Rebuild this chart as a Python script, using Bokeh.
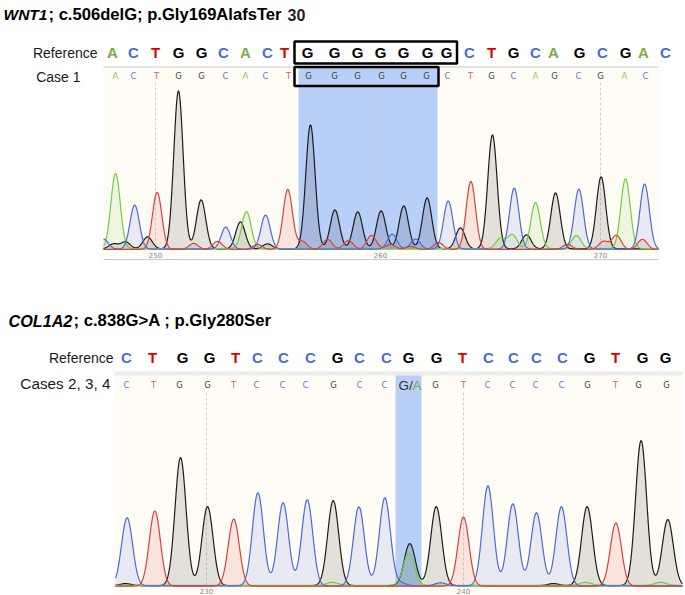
import numpy as np
from bokeh.plotting import figure
from bokeh.models import Range1d
from bokeh.embed import file_html
from bokeh.resources import INLINE
from bokeh.core.properties import value

# ---------- data: panel 1 (WNT1), peak position in base number, height in signal units
w_a_pos = [248.19, 254.08, 265.51, 266.05, 267.09, 268.93, 271.14]
w_a_h   = [75, 37, 10, 14, 46, 13, 70]
w_c_pos = [247.65, 249.05, 253.15, 254.94, 260.64, 261.69, 263.16, 266.13, 269.04, 272.0]
w_c_h   = [10, 44, 22, 34, 15, 10, 48, 61, 60, 65]
w_t_pos = [250.06, 251.70, 252.78, 254.58, 255.94, 256.60, 257.73, 258.67, 259.71, 260.56,
           261.46, 262.72, 264.18, 268.53, 270.15, 270.73, 271.90]
w_t_h   = [57, 6, 8, 5, 60, 8, 10, 9, 14, 5, 3, 7, 68, 5, 8, 14, 10]
w_g_pos = [248.10, 248.64, 249.63, 251.02, 252.04, 253.81, 255.03, 256.96, 258.06, 259.09,
           260.14, 261.16, 262.21, 263.71, 265.15, 266.68, 267.99, 270.04]
w_g_h   = [5, 7, 12, 158, 49, 27, 5, 124, 39, 37, 38, 43, 51, 21, 114, 14, 56, 72]

# ---------- data: panel 2 (COL1A2)
c_a_pos = [234.9, 237.87, 244.75, 247.67]
c_a_h   = [3, 32, 3, 3]
c_c_pos = [226.91, 232.0, 232.98, 233.92, 235.93, 236.94, 237.55, 239.11, 240.95, 241.92, 242.84, 243.81]
c_c_h   = [68, 93, 83, 86, 79, 88, 3, 3, 100, 82, 73, 79]
c_t_pos = [227.99, 231.06, 240.0, 245.93]
c_t_h   = [75, 67, 69, 63]
c_g_pos = [226.85, 228.99, 230.04, 234.93, 237.91, 238.94, 243.5, 244.81, 246.91, 247.95]
c_g_h   = [2, 128, 79, 85, 42, 79, 2, 79, 145, 66]

# ---------- texts
w_ref_x = [112, 133, 155, 178, 201, 223, 245, 267, 284, 307, 334, 357, 380, 403, 427, 446,
           469, 491, 513, 535, 553, 579, 602, 625, 643, 665]
w_ref  = list("ACTGGCACTGGGGGGGCTGCAGCGAC")
w_call = list("ACTGGCACTGGGGGGCTGCAGCGAC")
w_call_x = [115, 133, 156, 178, 201, 225, 245, 265, 288, 308, 334, 357, 381, 403, 426, 447,
            470, 491, 513, 535, 554, 578, 600, 624, 645]
c_ref  = list("CTGGTCCCGCCGGTCCCCGTGG")
c_ref_x = [126, 152, 182, 209, 235, 257, 283, 310, 337, 359, 386, 408, 436, 462, 488, 513,
           536, 562, 589, 615, 642, 665]
c_call = list("CTGGTCCCGCC") + list("GTCCCCGTGG")
c_call_x = [126, 153, 179, 207, 233, 256, 282, 305, 333, 359, 384, 435, 463, 487, 512, 535,
            561, 587, 615, 638, 666]
w_ticks = [250, 260, 270]
c_ticks = [230, 240]

REF_COL  = {"A": "#7cab45", "C": "#4c6fc8", "T": "#e00000", "G": "#000000"}
CALL_COL = {"A": "#78d050", "C": "#5878d8", "T": "#e06060", "G": "#404040"}
TRACE    = {"A": "#70cf3e", "C": "#4a6bd8", "T": "#d8423c", "G": "#1c1c1c"}
FLOOR    = {"A": 1.2, "C": 0.7, "G": 0.9, "T": 0.4}

p = figure(width=685, height=595, output_backend="svg", toolbar_location=None,
           x_range=Range1d(0, 685), y_range=Range1d(595, 0), min_border=0,
           outline_line_color=None, background_fill_color="white",
           styles={"position": "absolute", "left": "0px", "top": "0px"})
p.axis.visible = False
p.grid.visible = False
SANS = value("Liberation Sans")
SMALL = value("DejaVu Sans")


def panel_ranges(name, b0, px0, b1, px1, base_px):
    s = (px1 - px0) / (b1 - b0)
    p.extra_x_ranges[name] = Range1d(b0 - px0 / s, b0 + (685 - px0) / s)
    p.extra_y_ranges[name] = Range1d(base_px - 595, base_px)
    return s


def curve(xs, base, pos, h, sigma):
    return FLOOR[base] + sum(hh * np.exp(-((xs - pp) ** 2) / (2 * sigma ** 2)) for pp, hh in zip(pos, h))


def traces(name, peaks, sigma, left, right, b0, px0, s):
    xs = np.linspace(b0 + (left - px0) / s, b0 + (right - px0) / s, 1400)
    for base, (pos, h) in peaks.items():
        p.varea(xs, 0, curve(xs, base, pos, h, sigma), fill_color=TRACE[base], fill_alpha=0.12,
                x_range_name=name, y_range_name=name)
    for base in ["G", "A", "C", "T"]:
        pos, h = peaks[base]
        p.line(xs, curve(xs, base, pos, h, sigma), line_color=TRACE[base], line_width=1.2,
               x_range_name=name, y_range_name=name)


def letters(chars, xs, y, cmap, size, font, style="normal"):
    p.text(xs, [y] * len(xs), text=chars, text_color=[cmap[c] for c in chars],
           text_font=font, text_font_size=size, text_font_style=style,
           text_align="center", text_baseline="middle")


def label(x, y, t, size="14px", style="normal", align="left", color="#1a1a1a", font=SANS):
    p.text([x], [y], text=[t], text_color=color, text_font=font, text_font_size=size,
           text_font_style=style, text_align=align, text_baseline="middle")


# ---------- panel 1
s1 = panel_ranges("w", 250, 155.3, 270, 599.7, 249.3)
p.quad(left=[103], right=[658], top=[67], bottom=[259], fill_color="#fffcf5", line_color=None)
p.quad(left=[298], right=[437], top=[67], bottom=[249], fill_color="#b8d0f8", line_color=None)
p.segment([103, 103], [66.5, 259], [658, 658], [66.5, 259], line_color="#c8c8c8", line_width=1)
p.segment([155, 380, 600], [82] * 3, [155, 380, 600], [249] * 3, line_color="#c8c8c8",
          line_width=0.8, line_dash="3 2")
traces("w", {"A": (w_a_pos, w_a_h), "C": (w_c_pos, w_c_h), "T": (w_t_pos, w_t_h), "G": (w_g_pos, w_g_h)},
       0.21, 103, 658, 250, 155.3, s1)
letters(w_ref, w_ref_x, 52, REF_COL, "15px", SANS, "bold")
letters(w_call, w_call_x, 75, CALL_COL, "8.5px", SMALL)
p.text([155, 380, 600], [254.5] * 3, text=[str(t) for t in w_ticks], text_color="#888888",
       text_font=SMALL, text_font_size="7px", text_align="center", text_baseline="middle")
p.quad(left=[294], right=[456.5], top=[41], bottom=[63], fill_color=None, line_color="black", line_width=2.5)
p.quad(left=[294], right=[438], top=[66.5], bottom=[85.5], fill_color=None, line_color="black", line_width=2.5)
label(97, 52, "Reference")
p.renderers[-1].glyph.text_align = "right"
label(80, 76, "Case 1", align="right")

# ---------- panel 2
s2 = panel_ranges("c", 230, 206, 240, 463, 586)
p.quad(left=[114], right=[682], top=[371], bottom=[595], fill_color="#fffcf5", line_color=None)
p.quad(left=[114], right=[682], top=[371], bottom=[375], fill_color="#ececec", line_color=None)
p.quad(left=[395], right=[421], top=[375], bottom=[586], fill_color="#b8d0f8", line_color=None)
p.segment([206, 463], [392] * 2, [206, 463], [586] * 2, line_color="#c8c8c8",
          line_width=0.8, line_dash="3 2")
traces("c", {"A": (c_a_pos, c_a_h), "C": (c_c_pos, c_c_h), "T": (c_t_pos, c_t_h), "G": (c_g_pos, c_g_h)},
       0.215, 115, 682, 230, 206, s2)
letters(c_ref, c_ref_x, 357, REF_COL, "15px", SANS, "bold")
letters(c_call, c_call_x, 384, CALL_COL, "8.5px", SMALL)
p.text([206, 463], [590] * 2, text=[str(t) for t in c_ticks], text_color="#888888",
       text_font=SMALL, text_font_size="7px", text_align="center", text_baseline="middle")
label(398, 385, "G/", size="13.5px", color="#333333")
label(412, 385, "A", size="13.5px", color="#7cab45")
label(113, 357, "Reference", align="right")
label(110, 383, "Cases 2, 3, 4", size="15.3px", align="right")

# ---------- titles
label(3, 13.5, "WNT1", size="15.5px", style="bold italic", color="black")
label(48, 13.5, "; c.506delG; p.Gly169AlafsTer", size="16.6px", style="bold", color="black")
label(283.5, 14, ":", size="7px", color="#999999")
label(287, 14, "30", size="16px", style="bold", color="#222222")
label(8, 320, "COL1A2", size="16.2px", style="bold italic", color="black")
label(73, 320, "; c.838G>A ; p.Gly280Ser", size="16.7px", style="bold", color="black")

open("out.html", "w").write(file_html(p, INLINE))
